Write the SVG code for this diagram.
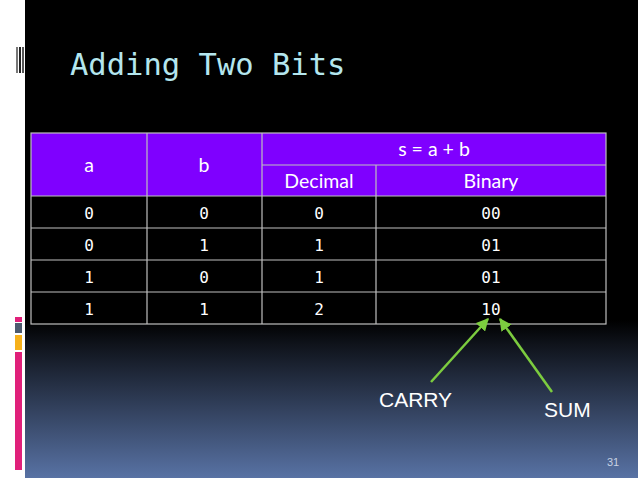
<svg xmlns="http://www.w3.org/2000/svg" width="638" height="478" viewBox="0 0 638 478">
<defs>
<linearGradient id="bg" x1="0" y1="0" x2="0" y2="478" gradientUnits="userSpaceOnUse">
<stop offset="0" stop-color="#000"/>
<stop offset="0.67" stop-color="#000"/>
<stop offset="0.72" stop-color="#0f131b"/>
<stop offset="1" stop-color="#5872a4"/>
</linearGradient>
<marker id="ah" viewBox="0 0 10 10" refX="9" refY="5" markerWidth="5" markerHeight="5" orient="auto" markerUnits="strokeWidth">
<path d="M0,0 L10,5 L0,10 z" fill="#7ccc3f"/>
</marker>
<style>
.hd{font-family:Lato,"Open Sans","Liberation Sans",sans-serif;font-size:19.5px;fill:#fff;text-anchor:middle}
.dt{font-family:"DejaVu Sans Mono","Liberation Mono",monospace;font-size:16px;fill:#fff;text-anchor:middle}
.lbl{font-family:"Liberation Sans",Arial,sans-serif;font-size:21px;fill:#fff}
.grid{stroke:#bfbfbf;stroke-width:1.2;fill:none}
.arr{stroke:#7ccc3f;stroke-width:2.5;fill:none;marker-end:url(#ah)}
</style>
</defs>
<rect x="0" y="0" width="638" height="478" fill="#fff"/>
<rect x="25" y="0" width="613" height="478" fill="url(#bg)"/>
<g id="decor">
<rect x="15" y="47" width="10" height="26" fill="#fff"/>
<rect x="16" y="47" width="2" height="26" fill="#777"/>
<rect x="19" y="47" width="2" height="26" fill="#222"/>
<rect x="22" y="47" width="2" height="26" fill="#555"/>
<rect x="15" y="317" width="7" height="5" fill="#e0207a"/>
<rect x="15" y="323" width="7" height="10" fill="#4d5a6e"/>
<rect x="15" y="335" width="7" height="15" fill="#f6b01a"/>
<rect x="15" y="352" width="7" height="118" fill="#e0207a"/>
</g>
<text x="70" y="75" font-family="'DejaVu Sans Mono','Liberation Mono',monospace" font-size="30.5" fill="#b4e6ee">Adding Two Bits</text>
<g id="table">
<rect x="31" y="133" width="575" height="63" fill="#7f00ff"/>
<rect x="31" y="196" width="575" height="128" fill="#000"/>
<rect class="grid" x="31" y="133" width="575" height="191"/>
<path class="grid" d="M147,133V324 M262,133V324 M376,165V324 M262,165H606 M31,196H606 M31,228H606 M31,260H606 M31,292H606"/>
<text class="hd" x="89" y="172">a</text>
<text class="hd" x="204" y="172">b</text>
<text class="hd" x="434" y="156">s = a + b</text>
<text class="hd" x="319" y="188">Decimal</text>
<text class="hd" x="491" y="188">Binary</text>
<g class="dt">
<text x="89" y="219">0</text><text x="204" y="219">0</text><text x="319" y="219">0</text><text x="491" y="219">00</text>
<text x="89" y="251">0</text><text x="204" y="251">1</text><text x="319" y="251">1</text><text x="491" y="251">01</text>
<text x="89" y="283">1</text><text x="204" y="283">0</text><text x="319" y="283">1</text><text x="491" y="283">01</text>
<text x="89" y="315">1</text><text x="204" y="315">1</text><text x="319" y="315">2</text><text x="491" y="315">10</text>
</g>
</g>
<g id="connectors">
<line class="arr" x1="431" y1="382" x2="488" y2="319"/>
<line class="arr" x1="552" y1="392" x2="500" y2="319"/>
</g>
<g id="carry"><text class="lbl" x="379" y="407">CARRY</text></g>
<g id="sum"><text class="lbl" x="544" y="417">SUM</text></g>
<text x="607" y="466" font-family="'Liberation Sans',Arial,sans-serif" font-size="11" fill="#c8d2e4">31</text>
</svg>
